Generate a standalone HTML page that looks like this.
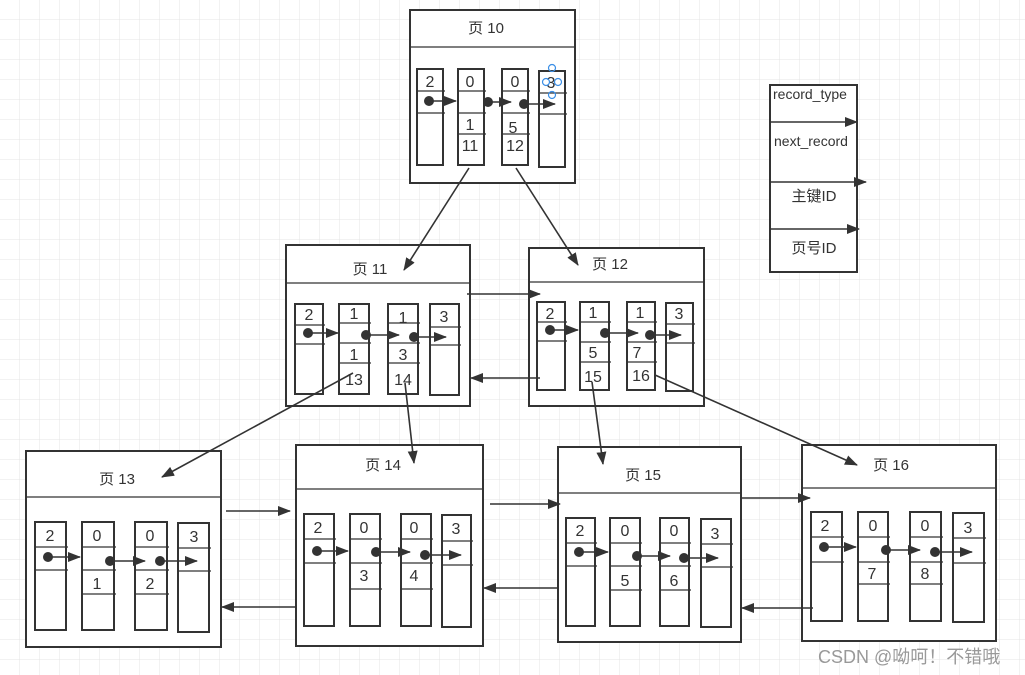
<!DOCTYPE html>
<html><head><meta charset="utf-8"><style>
body{margin:0;background:#fff;}
svg{display:block;font-family:"Liberation Sans","Noto Sans CJK SC",sans-serif;}
.b{fill:#fff;stroke:#333;stroke-width:2}
.c{fill:none;stroke:#333;stroke-width:2}
.l{stroke:#333;stroke-width:1.3}
.a{stroke:#333;stroke-width:1.6;marker-end:url(#ah)}
text{fill:#333;font-size:14px}
.t{font-size:15px;text-anchor:middle}
.n{font-size:16px;text-anchor:middle}
</style></head><body>
<svg width="1025" height="675" viewBox="0 0 1025 675">
<defs>
<pattern id="g" width="20" height="20" patternUnits="userSpaceOnUse"><path d="M20 0V20H0" fill="none" stroke="#e4e4e4" stroke-width="1"/></pattern>
<marker id="ah" markerWidth="13" markerHeight="10" refX="12" refY="5" orient="auto" markerUnits="userSpaceOnUse"><path d="M0,0L13,5L0,10z" fill="#333"/></marker>
</defs>
<rect width="1025" height="675" fill="url(#g)"/>

<!-- P10 -->
<rect class="b" x="410" y="10" width="165" height="173"/><line class="l" x1="410" y1="47" x2="575" y2="47" stroke-width="2"/>
<text class="t" x="486" y="33">页 10</text>
<rect class="c" x="417" y="69" width="26" height="96"/><line class="l" x1="417" y1="91" x2="445" y2="91"/><line class="l" x1="417" y1="113" x2="445" y2="113"/>
<rect class="c" x="458" y="69" width="26" height="96"/><line class="l" x1="458" y1="91" x2="486" y2="91"/><line class="l" x1="458" y1="113" x2="486" y2="113"/><line class="l" x1="458" y1="134" x2="486" y2="134"/>
<rect class="c" x="502" y="69" width="26" height="96"/><line class="l" x1="502" y1="91" x2="530" y2="91"/><line class="l" x1="502" y1="113" x2="530" y2="113"/><line class="l" x1="502" y1="134" x2="530" y2="134"/>
<rect class="c" x="539" y="71" width="26" height="96"/><line class="l" x1="539" y1="93" x2="567" y2="93"/><line class="l" x1="539" y1="114" x2="567" y2="114"/>
<text class="n" x="430" y="87">2</text><text class="n" x="470" y="87">0</text><text class="n" x="470" y="130">1</text><text class="n" x="470" y="151">11</text>
<text class="n" x="515" y="87">0</text><text class="n" x="513" y="133">5</text><text class="n" x="515" y="151">12</text><text class="n" x="551" y="88">3</text>
<g fill="none" stroke="#3a8ee6" stroke-width="1.2"><circle cx="552" cy="68" r="3.5"/><circle cx="546" cy="82" r="3.5"/><circle cx="558" cy="82" r="3.5"/><circle cx="552" cy="95" r="3.5"/></g>
<circle cx="429" cy="101" r="5" fill="#333"/><line class="a" x1="429" y1="101" x2="456" y2="101"/>
<circle cx="488" cy="102" r="5" fill="#333"/><line class="a" x1="488" y1="102" x2="511" y2="102"/>
<circle cx="524" cy="104" r="5" fill="#333"/><line class="a" x1="524" y1="104" x2="555" y2="104"/>

<!-- Legend -->
<rect class="b" x="770" y="85" width="87" height="187"/>
<text x="773" y="99">record_type</text><text x="774" y="146">next_record</text>
<text class="t" x="814" y="201">主键ID</text><text class="t" x="814" y="253">页号ID</text>
<line class="a" x1="770" y1="122" x2="857" y2="122"/><line class="a" x1="770" y1="182" x2="866" y2="182"/><line class="a" x1="770" y1="229" x2="859" y2="229"/>

<!-- P11 -->
<rect class="b" x="286" y="245" width="184" height="161"/><line class="l" x1="286" y1="283" x2="470" y2="283" stroke-width="2"/>
<text class="t" x="370" y="274">页 11</text>
<rect class="c" x="295" y="304" width="28" height="90"/><line class="l" x1="295" y1="325" x2="325" y2="325"/><line class="l" x1="295" y1="344" x2="325" y2="344"/>
<rect class="c" x="339" y="304" width="30" height="90"/><line class="l" x1="339" y1="323" x2="371" y2="323"/><line class="l" x1="339" y1="343" x2="371" y2="343"/><line class="l" x1="339" y1="363" x2="371" y2="363"/>
<rect class="c" x="388" y="304" width="30" height="90"/><line class="l" x1="388" y1="323" x2="420" y2="323"/><line class="l" x1="388" y1="343" x2="420" y2="343"/><line class="l" x1="388" y1="363" x2="420" y2="363"/>
<rect class="c" x="430" y="304" width="29" height="91"/><line class="l" x1="430" y1="327" x2="461" y2="327"/><line class="l" x1="430" y1="345" x2="461" y2="345"/>
<text class="n" x="309" y="320">2</text><text class="n" x="354" y="319">1</text><text class="n" x="354" y="360">1</text><text class="n" x="354" y="385">13</text>
<text class="n" x="403" y="323">1</text><text class="n" x="403" y="360">3</text><text class="n" x="403" y="385">14</text><text class="n" x="444" y="322">3</text>
<circle cx="308" cy="333" r="5" fill="#333"/><line class="a" x1="308" y1="333" x2="338" y2="333"/>
<circle cx="366" cy="335" r="5" fill="#333"/><line class="a" x1="366" y1="335" x2="399" y2="335"/>
<circle cx="414" cy="337" r="5" fill="#333"/><line class="a" x1="414" y1="337" x2="446" y2="337"/>

<!-- P12 -->
<rect class="b" x="529" y="248" width="175" height="158"/><line class="l" x1="529" y1="282" x2="704" y2="282" stroke-width="2"/>
<text class="t" x="610" y="269">页 12</text>
<rect class="c" x="537" y="302" width="28" height="88"/><line class="l" x1="537" y1="322" x2="567" y2="322"/><line class="l" x1="537" y1="341" x2="567" y2="341"/>
<rect class="c" x="580" y="302" width="29" height="88"/><line class="l" x1="580" y1="322" x2="611" y2="322"/><line class="l" x1="580" y1="342" x2="611" y2="342"/><line class="l" x1="580" y1="362" x2="611" y2="362"/>
<rect class="c" x="627" y="302" width="28" height="88"/><line class="l" x1="627" y1="322" x2="657" y2="322"/><line class="l" x1="627" y1="342" x2="657" y2="342"/><line class="l" x1="627" y1="362" x2="657" y2="362"/>
<rect class="c" x="666" y="303" width="27" height="88"/><line class="l" x1="666" y1="324" x2="695" y2="324"/><line class="l" x1="666" y1="343" x2="695" y2="343"/>
<text class="n" x="550" y="319">2</text><text class="n" x="593" y="318">1</text><text class="n" x="593" y="358">5</text><text class="n" x="593" y="382">15</text>
<text class="n" x="640" y="318">1</text><text class="n" x="637" y="358">7</text><text class="n" x="641" y="381">16</text><text class="n" x="679" y="319">3</text>
<circle cx="550" cy="330" r="5" fill="#333"/><line class="a" x1="550" y1="330" x2="578" y2="330"/>
<circle cx="605" cy="333" r="5" fill="#333"/><line class="a" x1="605" y1="333" x2="638" y2="333"/>
<circle cx="650" cy="335" r="5" fill="#333"/><line class="a" x1="650" y1="335" x2="681" y2="335"/>

<!-- P13 -->
<rect class="b" x="26" y="451" width="195" height="196"/><line class="l" x1="26" y1="497" x2="221" y2="497" stroke-width="2"/>
<text class="t" x="117" y="484">页 13</text>
<rect class="c" x="35" y="522" width="31" height="108"/><line class="l" x1="35" y1="547" x2="68" y2="547"/><line class="l" x1="35" y1="570" x2="68" y2="570"/>
<rect class="c" x="82" y="522" width="32" height="108"/><line class="l" x1="82" y1="547" x2="116" y2="547"/><line class="l" x1="82" y1="570" x2="116" y2="570"/><line class="l" x1="82" y1="594" x2="116" y2="594"/>
<rect class="c" x="135" y="522" width="32" height="108"/><line class="l" x1="135" y1="547" x2="169" y2="547"/><line class="l" x1="135" y1="570" x2="169" y2="570"/><line class="l" x1="135" y1="594" x2="169" y2="594"/>
<rect class="c" x="178" y="523" width="31" height="109"/><line class="l" x1="178" y1="548" x2="211" y2="548"/><line class="l" x1="178" y1="571" x2="211" y2="571"/>
<text class="n" x="50" y="541">2</text><text class="n" x="97" y="541">0</text><text class="n" x="97" y="589">1</text>
<text class="n" x="150" y="541">0</text><text class="n" x="150" y="589">2</text><text class="n" x="194" y="542">3</text>
<circle cx="48" cy="557" r="5" fill="#333"/><line class="a" x1="48" y1="557" x2="80" y2="557"/>
<circle cx="110" cy="561" r="5" fill="#333"/><line class="a" x1="110" y1="561" x2="145" y2="561"/>
<circle cx="160" cy="561" r="5" fill="#333"/><line class="a" x1="160" y1="561" x2="197" y2="561"/>

<!-- P14 -->
<rect class="b" x="296" y="445" width="187" height="201"/><line class="l" x1="296" y1="489" x2="483" y2="489" stroke-width="2"/>
<text class="t" x="383" y="470">页 14</text>
<rect class="c" x="304" y="514" width="30" height="112"/><line class="l" x1="304" y1="539" x2="336" y2="539"/><line class="l" x1="304" y1="563" x2="336" y2="563"/>
<rect class="c" x="350" y="514" width="30" height="112"/><line class="l" x1="350" y1="539" x2="382" y2="539"/><line class="l" x1="350" y1="563" x2="382" y2="563"/><line class="l" x1="350" y1="589" x2="382" y2="589"/>
<rect class="c" x="401" y="514" width="30" height="112"/><line class="l" x1="401" y1="539" x2="433" y2="539"/><line class="l" x1="401" y1="563" x2="433" y2="563"/><line class="l" x1="401" y1="589" x2="433" y2="589"/>
<rect class="c" x="442" y="515" width="29" height="112"/><line class="l" x1="442" y1="541" x2="473" y2="541"/><line class="l" x1="442" y1="565" x2="473" y2="565"/>
<text class="n" x="318" y="533">2</text><text class="n" x="364" y="533">0</text><text class="n" x="364" y="581">3</text>
<text class="n" x="414" y="533">0</text><text class="n" x="414" y="581">4</text><text class="n" x="456" y="534">3</text>
<circle cx="317" cy="551" r="5" fill="#333"/><line class="a" x1="317" y1="551" x2="348" y2="551"/>
<circle cx="376" cy="552" r="5" fill="#333"/><line class="a" x1="376" y1="552" x2="410" y2="552"/>
<circle cx="425" cy="555" r="5" fill="#333"/><line class="a" x1="425" y1="555" x2="461" y2="555"/>

<!-- P15 -->
<rect class="b" x="558" y="447" width="183" height="195"/><line class="l" x1="558" y1="493" x2="741" y2="493" stroke-width="2"/>
<text class="t" x="643" y="480">页 15</text>
<rect class="c" x="566" y="518" width="29" height="108"/><line class="l" x1="566" y1="543" x2="597" y2="543"/><line class="l" x1="566" y1="566" x2="597" y2="566"/>
<rect class="c" x="610" y="518" width="30" height="108"/><line class="l" x1="610" y1="543" x2="642" y2="543"/><line class="l" x1="610" y1="566" x2="642" y2="566"/><line class="l" x1="610" y1="590" x2="642" y2="590"/>
<rect class="c" x="660" y="518" width="29" height="108"/><line class="l" x1="660" y1="543" x2="691" y2="543"/><line class="l" x1="660" y1="566" x2="691" y2="566"/><line class="l" x1="660" y1="590" x2="691" y2="590"/>
<rect class="c" x="701" y="519" width="30" height="108"/><line class="l" x1="701" y1="544" x2="733" y2="544"/><line class="l" x1="701" y1="567" x2="733" y2="567"/>
<text class="n" x="580" y="536">2</text><text class="n" x="625" y="536">0</text><text class="n" x="625" y="586">5</text>
<text class="n" x="674" y="536">0</text><text class="n" x="674" y="586">6</text><text class="n" x="715" y="539">3</text>
<circle cx="579" cy="552" r="5" fill="#333"/><line class="a" x1="579" y1="552" x2="608" y2="552"/>
<circle cx="637" cy="556" r="5" fill="#333"/><line class="a" x1="637" y1="556" x2="670" y2="556"/>
<circle cx="684" cy="558" r="5" fill="#333"/><line class="a" x1="684" y1="558" x2="718" y2="558"/>

<!-- P16 -->
<rect class="b" x="802" y="445" width="194" height="196"/><line class="l" x1="802" y1="488" x2="996" y2="488" stroke-width="2"/>
<text class="t" x="891" y="470">页 16</text>
<rect class="c" x="811" y="512" width="31" height="109"/><line class="l" x1="811" y1="537" x2="844" y2="537"/><line class="l" x1="811" y1="562" x2="844" y2="562"/>
<rect class="c" x="858" y="512" width="30" height="109"/><line class="l" x1="858" y1="537" x2="890" y2="537"/><line class="l" x1="858" y1="562" x2="890" y2="562"/><line class="l" x1="858" y1="584" x2="890" y2="584"/>
<rect class="c" x="910" y="512" width="31" height="109"/><line class="l" x1="910" y1="537" x2="943" y2="537"/><line class="l" x1="910" y1="562" x2="943" y2="562"/><line class="l" x1="910" y1="584" x2="943" y2="584"/>
<rect class="c" x="953" y="513" width="31" height="109"/><line class="l" x1="953" y1="538" x2="986" y2="538"/><line class="l" x1="953" y1="563" x2="986" y2="563"/>
<text class="n" x="825" y="531">2</text><text class="n" x="873" y="531">0</text><text class="n" x="872" y="579">7</text>
<text class="n" x="925" y="531">0</text><text class="n" x="925" y="579">8</text><text class="n" x="968" y="533">3</text>
<circle cx="824" cy="547" r="5" fill="#333"/><line class="a" x1="824" y1="547" x2="856" y2="547"/>
<circle cx="886" cy="550" r="5" fill="#333"/><line class="a" x1="886" y1="550" x2="920" y2="550"/>
<circle cx="935" cy="552" r="5" fill="#333"/><line class="a" x1="935" y1="552" x2="972" y2="552"/>

<!-- connectors -->
<line class="a" x1="469" y1="168" x2="404" y2="270"/>
<line class="a" x1="516" y1="168" x2="578" y2="265"/>
<line class="a" x1="467" y1="294" x2="540" y2="294"/>
<line class="a" x1="540" y1="378" x2="471" y2="378"/>
<line class="a" x1="353" y1="373" x2="162" y2="477"/>
<line class="a" x1="405" y1="383" x2="414" y2="463"/>
<line class="a" x1="592" y1="382" x2="603" y2="464"/>
<line class="a" x1="655" y1="375" x2="857" y2="465"/>
<line class="a" x1="226" y1="511" x2="290" y2="511"/>
<line class="a" x1="296" y1="607" x2="222" y2="607"/>
<line class="a" x1="490" y1="504" x2="560" y2="504"/>
<line class="a" x1="558" y1="588" x2="484" y2="588"/>
<line class="a" x1="740" y1="498" x2="810" y2="498"/>
<line class="a" x1="813" y1="608" x2="742" y2="608"/>

<text x="818" y="663" style="fill:#999;font-size:18px">CSDN @呦呵！不错哦</text>
</svg>
</body></html>
